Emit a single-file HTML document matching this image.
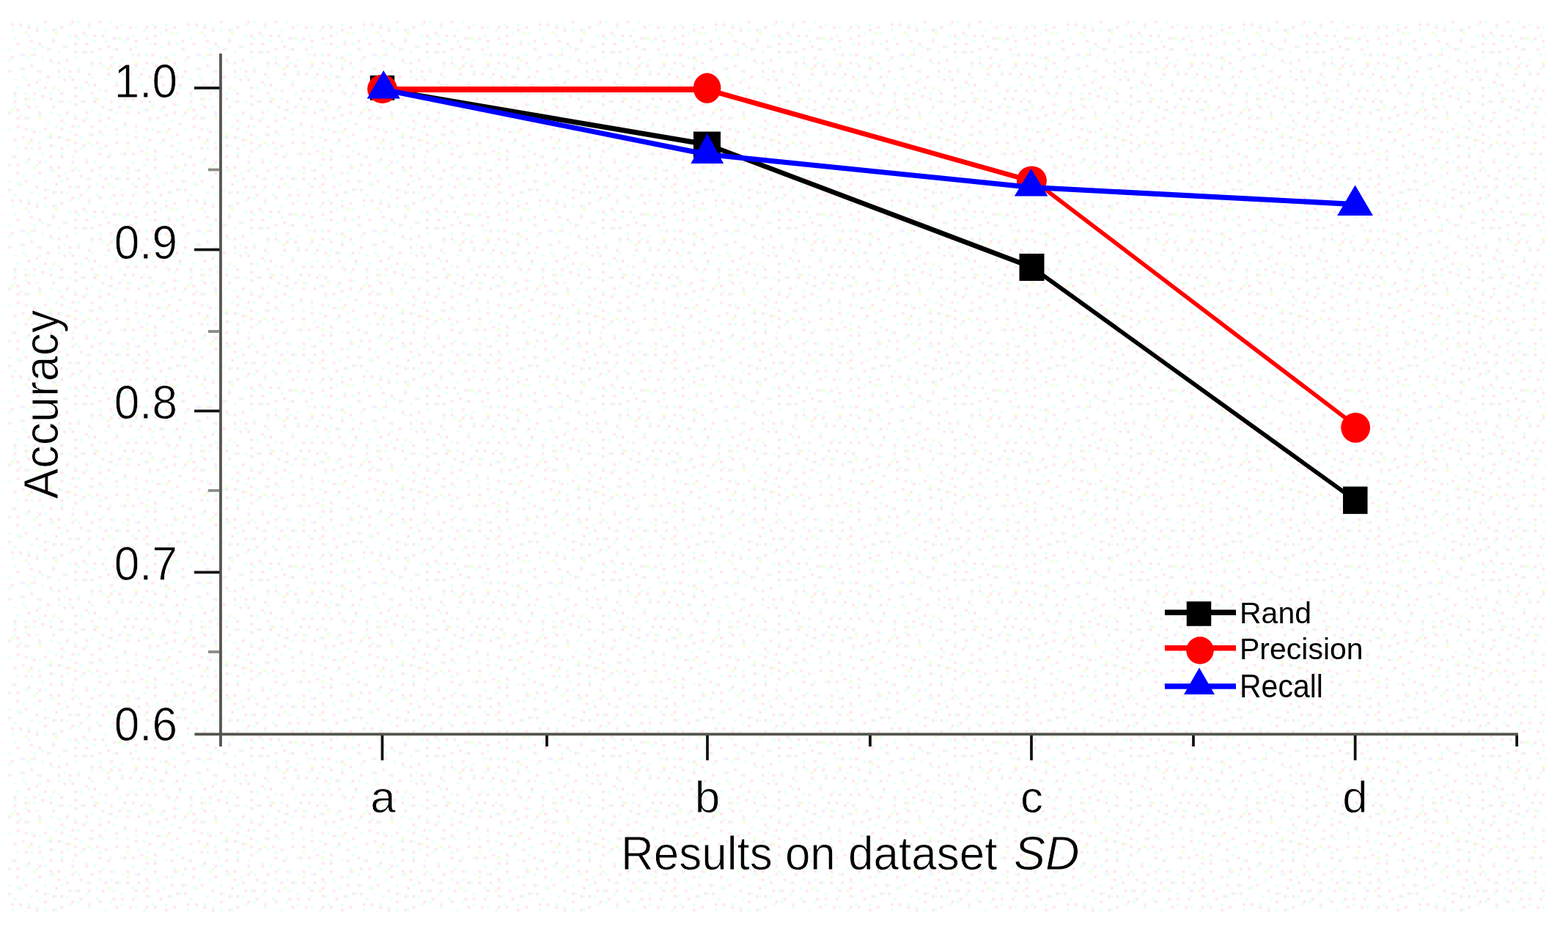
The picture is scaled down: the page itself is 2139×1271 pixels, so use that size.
<!DOCTYPE html>
<html lang="en"><head><meta charset="utf-8"><title>Results on dataset SD</title>
<style>html,body{margin:0;padding:0;background:#fff;}body{width:2139px;height:1271px;overflow:hidden;}svg{display:block;}</style></head>
<body>
<svg width="2139" height="1271" viewBox="0 0 2139 1271" role="img" aria-label="Results on dataset SD">
<defs><pattern id="dz" x="11.25" y="28.1" width="240" height="240" patternUnits="userSpaceOnUse"><path fill="#ffe6f0" d="M0 67.5h3.75v3.75h-3.75zM0 123.75h3.75v3.75h-3.75zM0 195h3.75v3.75h-3.75zM0 228.75h3.75v3.75h-3.75zM3.75 3.75h3.75v3.75h-3.75zM3.75 48.75h3.75v3.75h-3.75zM7.5 97.5h3.75v3.75h-3.75zM7.5 108.75h3.75v3.75h-3.75zM7.5 161.25h3.75v3.75h-3.75zM7.5 183.75h3.75v3.75h-3.75zM11.25 30h3.75v3.75h-3.75zM11.25 120h3.75v3.75h-3.75zM11.25 131.25h3.75v3.75h-3.75zM11.25 142.5h3.75v3.75h-3.75zM11.25 195h3.75v3.75h-3.75zM11.25 206.25h3.75v3.75h-3.75zM15 3.75h3.75v3.75h-3.75zM18.75 45h3.75v3.75h-3.75zM18.75 63.75h3.75v3.75h-3.75zM18.75 157.5h3.75v3.75h-3.75zM22.5 105h3.75v3.75h-3.75zM22.5 131.25h3.75v3.75h-3.75zM22.5 146.25h3.75v3.75h-3.75zM22.5 172.5h3.75v3.75h-3.75zM22.5 217.5h3.75v3.75h-3.75zM26.25 7.5h3.75v3.75h-3.75zM26.25 86.25h3.75v3.75h-3.75zM26.25 116.25h3.75v3.75h-3.75zM26.25 187.5h3.75v3.75h-3.75zM30 26.25h3.75v3.75h-3.75zM30 60h3.75v3.75h-3.75zM30 161.25h3.75v3.75h-3.75zM33.75 45h3.75v3.75h-3.75zM33.75 97.5h3.75v3.75h-3.75zM33.75 150h3.75v3.75h-3.75zM37.5 11.25h3.75v3.75h-3.75zM37.5 82.5h3.75v3.75h-3.75zM37.5 225h3.75v3.75h-3.75zM41.25 30h3.75v3.75h-3.75zM41.25 67.5h3.75v3.75h-3.75zM41.25 123.75h3.75v3.75h-3.75zM41.25 172.5h3.75v3.75h-3.75zM41.25 191.25h3.75v3.75h-3.75zM41.25 206.25h3.75v3.75h-3.75zM45 101.25h3.75v3.75h-3.75zM48.75 0h3.75v3.75h-3.75zM48.75 90h3.75v3.75h-3.75zM48.75 146.25h3.75v3.75h-3.75zM48.75 228.75h3.75v3.75h-3.75zM52.5 37.5h3.75v3.75h-3.75zM52.5 75h3.75v3.75h-3.75zM56.25 52.5h3.75v3.75h-3.75zM56.25 105h3.75v3.75h-3.75zM56.25 157.5h3.75v3.75h-3.75zM56.25 168.75h3.75v3.75h-3.75zM56.25 183.75h3.75v3.75h-3.75zM56.25 198.75h3.75v3.75h-3.75zM60 11.25h3.75v3.75h-3.75zM60 26.25h3.75v3.75h-3.75zM60 116.25h3.75v3.75h-3.75zM60 232.5h3.75v3.75h-3.75zM63.75 221.25h3.75v3.75h-3.75zM67.5 56.25h3.75v3.75h-3.75zM67.5 67.5h3.75v3.75h-3.75zM67.5 157.5h3.75v3.75h-3.75zM67.5 198.75h3.75v3.75h-3.75zM67.5 210h3.75v3.75h-3.75zM71.25 7.5h3.75v3.75h-3.75zM71.25 97.5h3.75v3.75h-3.75zM71.25 108.75h3.75v3.75h-3.75zM71.25 135h3.75v3.75h-3.75zM71.25 146.25h3.75v3.75h-3.75zM71.25 172.5h3.75v3.75h-3.75zM71.25 183.75h3.75v3.75h-3.75zM71.25 232.5h3.75v3.75h-3.75zM75 33.75h3.75v3.75h-3.75zM75 78.75h3.75v3.75h-3.75zM78.75 52.5h3.75v3.75h-3.75zM78.75 123.75h3.75v3.75h-3.75zM78.75 161.25h3.75v3.75h-3.75zM78.75 213.75h3.75v3.75h-3.75zM82.5 67.5h3.75v3.75h-3.75zM82.5 225h3.75v3.75h-3.75zM86.25 0h3.75v3.75h-3.75zM86.25 78.75h3.75v3.75h-3.75zM86.25 142.5h3.75v3.75h-3.75zM86.25 191.25h3.75v3.75h-3.75zM86.25 202.5h3.75v3.75h-3.75zM90 18.75h3.75v3.75h-3.75zM90 30h3.75v3.75h-3.75zM90 41.25h3.75v3.75h-3.75zM90 90h3.75v3.75h-3.75zM90 101.25h3.75v3.75h-3.75zM90 112.5h3.75v3.75h-3.75zM90 131.25h3.75v3.75h-3.75zM90 153.75h3.75v3.75h-3.75zM90 165h3.75v3.75h-3.75zM90 176.25h3.75v3.75h-3.75zM93.75 67.5h3.75v3.75h-3.75zM93.75 225h3.75v3.75h-3.75zM97.5 210h3.75v3.75h-3.75zM97.5 236.25h3.75v3.75h-3.75zM101.25 15h3.75v3.75h-3.75zM101.25 41.25h3.75v3.75h-3.75zM101.25 108.75h3.75v3.75h-3.75zM101.25 135h3.75v3.75h-3.75zM101.25 168.75h3.75v3.75h-3.75zM105 30h3.75v3.75h-3.75zM105 82.5h3.75v3.75h-3.75zM105 123.75h3.75v3.75h-3.75zM105 191.25h3.75v3.75h-3.75zM108.75 3.75h3.75v3.75h-3.75zM108.75 71.25h3.75v3.75h-3.75zM108.75 213.75h3.75v3.75h-3.75zM108.75 225h3.75v3.75h-3.75zM112.5 41.25h3.75v3.75h-3.75zM112.5 56.25h3.75v3.75h-3.75zM112.5 97.5h3.75v3.75h-3.75zM112.5 142.5h3.75v3.75h-3.75zM112.5 153.75h3.75v3.75h-3.75zM112.5 202.5h3.75v3.75h-3.75zM116.25 18.75h3.75v3.75h-3.75zM116.25 86.25h3.75v3.75h-3.75zM116.25 108.75h3.75v3.75h-3.75zM120 165h3.75v3.75h-3.75zM123.75 0h3.75v3.75h-3.75zM123.75 37.5h3.75v3.75h-3.75zM123.75 56.25h3.75v3.75h-3.75zM123.75 135h3.75v3.75h-3.75zM123.75 150h3.75v3.75h-3.75zM123.75 180h3.75v3.75h-3.75zM123.75 198.75h3.75v3.75h-3.75zM127.5 18.75h3.75v3.75h-3.75zM127.5 116.25h3.75v3.75h-3.75zM127.5 225h3.75v3.75h-3.75zM131.25 93.75h3.75v3.75h-3.75zM131.25 168.75h3.75v3.75h-3.75zM131.25 213.75h3.75v3.75h-3.75zM135 33.75h3.75v3.75h-3.75zM135 71.25h3.75v3.75h-3.75zM135 131.25h3.75v3.75h-3.75zM135 183.75h3.75v3.75h-3.75zM138.75 48.75h3.75v3.75h-3.75zM138.75 60h3.75v3.75h-3.75zM138.75 108.75h3.75v3.75h-3.75zM138.75 120h3.75v3.75h-3.75zM138.75 198.75h3.75v3.75h-3.75zM142.5 22.5h3.75v3.75h-3.75zM142.5 236.25h3.75v3.75h-3.75zM146.25 7.5h3.75v3.75h-3.75zM146.25 37.5h3.75v3.75h-3.75zM146.25 86.25h3.75v3.75h-3.75zM146.25 146.25h3.75v3.75h-3.75zM146.25 165h3.75v3.75h-3.75zM146.25 213.75h3.75v3.75h-3.75zM150 60h3.75v3.75h-3.75zM150 116.25h3.75v3.75h-3.75zM153.75 71.25h3.75v3.75h-3.75zM153.75 236.25h3.75v3.75h-3.75zM157.5 105h3.75v3.75h-3.75zM157.5 138.75h3.75v3.75h-3.75zM157.5 180h3.75v3.75h-3.75zM161.25 22.5h3.75v3.75h-3.75zM161.25 93.75h3.75v3.75h-3.75zM161.25 123.75h3.75v3.75h-3.75zM161.25 165h3.75v3.75h-3.75zM161.25 198.75h3.75v3.75h-3.75zM161.25 213.75h3.75v3.75h-3.75zM165 7.5h3.75v3.75h-3.75zM165 37.5h3.75v3.75h-3.75zM165 71.25h3.75v3.75h-3.75zM168.75 105h3.75v3.75h-3.75zM168.75 180h3.75v3.75h-3.75zM168.75 236.25h3.75v3.75h-3.75zM172.5 26.25h3.75v3.75h-3.75zM172.5 60h3.75v3.75h-3.75zM172.5 93.75h3.75v3.75h-3.75zM172.5 142.5h3.75v3.75h-3.75zM172.5 157.5h3.75v3.75h-3.75zM172.5 225h3.75v3.75h-3.75zM176.25 45h3.75v3.75h-3.75zM176.25 123.75h3.75v3.75h-3.75zM176.25 202.5h3.75v3.75h-3.75zM176.25 213.75h3.75v3.75h-3.75zM180 71.25h3.75v3.75h-3.75zM180 108.75h3.75v3.75h-3.75zM180 176.25h3.75v3.75h-3.75zM187.5 7.5h3.75v3.75h-3.75zM187.5 22.5h3.75v3.75h-3.75zM187.5 56.25h3.75v3.75h-3.75zM187.5 93.75h3.75v3.75h-3.75zM187.5 120h3.75v3.75h-3.75zM187.5 146.25h3.75v3.75h-3.75zM187.5 187.5h3.75v3.75h-3.75zM187.5 210h3.75v3.75h-3.75zM187.5 221.25h3.75v3.75h-3.75zM187.5 232.5h3.75v3.75h-3.75zM191.25 75h3.75v3.75h-3.75zM191.25 108.75h3.75v3.75h-3.75zM191.25 131.25h3.75v3.75h-3.75zM191.25 161.25h3.75v3.75h-3.75zM195 45h3.75v3.75h-3.75zM198.75 7.5h3.75v3.75h-3.75zM198.75 18.75h3.75v3.75h-3.75zM198.75 30h3.75v3.75h-3.75zM198.75 60h3.75v3.75h-3.75zM198.75 93.75h3.75v3.75h-3.75zM198.75 176.25h3.75v3.75h-3.75zM198.75 187.5h3.75v3.75h-3.75zM198.75 198.75h3.75v3.75h-3.75zM202.5 131.25h3.75v3.75h-3.75zM202.5 150h3.75v3.75h-3.75zM202.5 225h3.75v3.75h-3.75zM206.25 75h3.75v3.75h-3.75zM206.25 236.25h3.75v3.75h-3.75zM210 86.25h3.75v3.75h-3.75zM210 116.25h3.75v3.75h-3.75zM210 161.25h3.75v3.75h-3.75zM213.75 11.25h3.75v3.75h-3.75zM213.75 48.75h3.75v3.75h-3.75zM213.75 63.75h3.75v3.75h-3.75zM213.75 127.5h3.75v3.75h-3.75zM213.75 206.25h3.75v3.75h-3.75zM217.5 30h3.75v3.75h-3.75zM217.5 97.5h3.75v3.75h-3.75zM217.5 146.25h3.75v3.75h-3.75zM217.5 232.5h3.75v3.75h-3.75zM221.25 168.75h3.75v3.75h-3.75zM221.25 183.75h3.75v3.75h-3.75zM221.25 217.5h3.75v3.75h-3.75zM225 7.5h3.75v3.75h-3.75zM225 56.25h3.75v3.75h-3.75zM225 112.5h3.75v3.75h-3.75zM225 123.75h3.75v3.75h-3.75zM225 198.75h3.75v3.75h-3.75zM228.75 75h3.75v3.75h-3.75zM228.75 97.5h3.75v3.75h-3.75zM228.75 153.75h3.75v3.75h-3.75zM228.75 228.75h3.75v3.75h-3.75zM232.5 86.25h3.75v3.75h-3.75zM232.5 138.75h3.75v3.75h-3.75zM236.25 26.25h3.75v3.75h-3.75zM236.25 37.5h3.75v3.75h-3.75zM236.25 180h3.75v3.75h-3.75zM236.25 217.5h3.75v3.75h-3.75z"/><path fill="#e5ffff" d="M0 37.5h3.75v3.75h-3.75zM0 52.5h3.75v3.75h-3.75zM0 146.25h3.75v3.75h-3.75zM0 217.5h3.75v3.75h-3.75zM3.75 11.25h3.75v3.75h-3.75zM3.75 183.75h3.75v3.75h-3.75zM7.5 22.5h3.75v3.75h-3.75zM7.5 78.75h3.75v3.75h-3.75zM7.5 101.25h3.75v3.75h-3.75zM7.5 116.25h3.75v3.75h-3.75zM7.5 236.25h3.75v3.75h-3.75zM11.25 90h3.75v3.75h-3.75zM11.25 172.5h3.75v3.75h-3.75zM11.25 221.25h3.75v3.75h-3.75zM15 45h3.75v3.75h-3.75zM15 63.75h3.75v3.75h-3.75zM15 127.5h3.75v3.75h-3.75zM18.75 75h3.75v3.75h-3.75zM18.75 210h3.75v3.75h-3.75zM22.5 97.5h3.75v3.75h-3.75zM22.5 112.5h3.75v3.75h-3.75zM22.5 191.25h3.75v3.75h-3.75zM26.25 3.75h3.75v3.75h-3.75zM26.25 18.75h3.75v3.75h-3.75zM26.25 48.75h3.75v3.75h-3.75zM26.25 131.25h3.75v3.75h-3.75zM30 146.25h3.75v3.75h-3.75zM30 172.5h3.75v3.75h-3.75zM30 232.5h3.75v3.75h-3.75zM33.75 37.5h3.75v3.75h-3.75zM33.75 105h3.75v3.75h-3.75zM33.75 210h3.75v3.75h-3.75zM37.5 7.5h3.75v3.75h-3.75zM37.5 67.5h3.75v3.75h-3.75zM37.5 116.25h3.75v3.75h-3.75zM37.5 195h3.75v3.75h-3.75zM41.25 78.75h3.75v3.75h-3.75zM41.25 93.75h3.75v3.75h-3.75zM41.25 127.5h3.75v3.75h-3.75zM41.25 150h3.75v3.75h-3.75zM41.25 165h3.75v3.75h-3.75zM41.25 236.25h3.75v3.75h-3.75zM45 33.75h3.75v3.75h-3.75zM45 48.75h3.75v3.75h-3.75zM45 180h3.75v3.75h-3.75zM48.75 11.25h3.75v3.75h-3.75zM48.75 191.25h3.75v3.75h-3.75zM48.75 217.5h3.75v3.75h-3.75zM52.5 138.75h3.75v3.75h-3.75zM52.5 157.5h3.75v3.75h-3.75zM52.5 228.75h3.75v3.75h-3.75zM56.25 37.5h3.75v3.75h-3.75zM56.25 97.5h3.75v3.75h-3.75zM56.25 123.75h3.75v3.75h-3.75zM56.25 202.5h3.75v3.75h-3.75zM60 22.5h3.75v3.75h-3.75zM60 56.25h3.75v3.75h-3.75zM60 168.75h3.75v3.75h-3.75zM63.75 11.25h3.75v3.75h-3.75zM63.75 142.5h3.75v3.75h-3.75zM63.75 232.5h3.75v3.75h-3.75zM67.5 41.25h3.75v3.75h-3.75zM67.5 75h3.75v3.75h-3.75zM67.5 93.75h3.75v3.75h-3.75zM67.5 108.75h3.75v3.75h-3.75zM67.5 127.5h3.75v3.75h-3.75zM71.25 157.5h3.75v3.75h-3.75zM71.25 180h3.75v3.75h-3.75zM71.25 217.5h3.75v3.75h-3.75zM75 63.75h3.75v3.75h-3.75zM75 138.75h3.75v3.75h-3.75zM75 206.25h3.75v3.75h-3.75zM78.75 33.75h3.75v3.75h-3.75zM78.75 168.75h3.75v3.75h-3.75zM78.75 232.5h3.75v3.75h-3.75zM82.5 3.75h3.75v3.75h-3.75zM82.5 18.75h3.75v3.75h-3.75zM82.5 75h3.75v3.75h-3.75zM82.5 108.75h3.75v3.75h-3.75zM82.5 150h3.75v3.75h-3.75zM86.25 183.75h3.75v3.75h-3.75zM90 48.75h3.75v3.75h-3.75zM90 127.5h3.75v3.75h-3.75zM90 225h3.75v3.75h-3.75zM93.75 0h3.75v3.75h-3.75zM93.75 22.5h3.75v3.75h-3.75zM93.75 63.75h3.75v3.75h-3.75zM93.75 142.5h3.75v3.75h-3.75zM93.75 202.5h3.75v3.75h-3.75zM97.5 90h3.75v3.75h-3.75zM97.5 108.75h3.75v3.75h-3.75zM97.5 157.5h3.75v3.75h-3.75zM97.5 172.5h3.75v3.75h-3.75zM105 18.75h3.75v3.75h-3.75zM105 41.25h3.75v3.75h-3.75zM105 131.25h3.75v3.75h-3.75zM105 187.5h3.75v3.75h-3.75zM105 213.75h3.75v3.75h-3.75zM105 228.75h3.75v3.75h-3.75zM108.75 7.5h3.75v3.75h-3.75zM108.75 86.25h3.75v3.75h-3.75zM108.75 153.75h3.75v3.75h-3.75zM112.5 60h3.75v3.75h-3.75zM112.5 75h3.75v3.75h-3.75zM112.5 120h3.75v3.75h-3.75zM112.5 168.75h3.75v3.75h-3.75zM116.25 26.25h3.75v3.75h-3.75zM116.25 105h3.75v3.75h-3.75zM116.25 191.25h3.75v3.75h-3.75zM120 221.25h3.75v3.75h-3.75zM120 236.25h3.75v3.75h-3.75zM123.75 48.75h3.75v3.75h-3.75zM123.75 93.75h3.75v3.75h-3.75zM123.75 127.5h3.75v3.75h-3.75zM123.75 172.5h3.75v3.75h-3.75zM123.75 210h3.75v3.75h-3.75zM127.5 60h3.75v3.75h-3.75zM127.5 153.75h3.75v3.75h-3.75zM127.5 195h3.75v3.75h-3.75zM131.25 11.25h3.75v3.75h-3.75zM131.25 26.25h3.75v3.75h-3.75zM131.25 78.75h3.75v3.75h-3.75zM131.25 105h3.75v3.75h-3.75zM131.25 142.5h3.75v3.75h-3.75zM135 120h3.75v3.75h-3.75zM138.75 0h3.75v3.75h-3.75zM138.75 180h3.75v3.75h-3.75zM138.75 210h3.75v3.75h-3.75zM142.5 37.5h3.75v3.75h-3.75zM142.5 56.25h3.75v3.75h-3.75zM142.5 135h3.75v3.75h-3.75zM142.5 198.75h3.75v3.75h-3.75zM142.5 225h3.75v3.75h-3.75zM146.25 22.5h3.75v3.75h-3.75zM146.25 82.5h3.75v3.75h-3.75zM146.25 123.75h3.75v3.75h-3.75zM146.25 153.75h3.75v3.75h-3.75zM150 97.5h3.75v3.75h-3.75zM150 213.75h3.75v3.75h-3.75zM153.75 3.75h3.75v3.75h-3.75zM153.75 52.5h3.75v3.75h-3.75zM153.75 67.5h3.75v3.75h-3.75zM153.75 112.5h3.75v3.75h-3.75zM153.75 180h3.75v3.75h-3.75zM153.75 202.5h3.75v3.75h-3.75zM153.75 228.75h3.75v3.75h-3.75zM157.5 26.25h3.75v3.75h-3.75zM157.5 142.5h3.75v3.75h-3.75zM161.25 153.75h3.75v3.75h-3.75zM165 90h3.75v3.75h-3.75zM165 116.25h3.75v3.75h-3.75zM168.75 18.75h3.75v3.75h-3.75zM168.75 45h3.75v3.75h-3.75zM168.75 63.75h3.75v3.75h-3.75zM168.75 191.25h3.75v3.75h-3.75zM168.75 221.25h3.75v3.75h-3.75zM172.5 7.5h3.75v3.75h-3.75zM172.5 33.75h3.75v3.75h-3.75zM172.5 150h3.75v3.75h-3.75zM172.5 202.5h3.75v3.75h-3.75zM172.5 232.5h3.75v3.75h-3.75zM176.25 75h3.75v3.75h-3.75zM176.25 168.75h3.75v3.75h-3.75zM180 86.25h3.75v3.75h-3.75zM183.75 11.25h3.75v3.75h-3.75zM183.75 63.75h3.75v3.75h-3.75zM183.75 105h3.75v3.75h-3.75zM183.75 120h3.75v3.75h-3.75zM183.75 157.5h3.75v3.75h-3.75zM183.75 195h3.75v3.75h-3.75zM187.5 45h3.75v3.75h-3.75zM187.5 172.5h3.75v3.75h-3.75zM191.25 30h3.75v3.75h-3.75zM191.25 135h3.75v3.75h-3.75zM191.25 213.75h3.75v3.75h-3.75zM191.25 232.5h3.75v3.75h-3.75zM195 3.75h3.75v3.75h-3.75zM195 56.25h3.75v3.75h-3.75zM195 86.25h3.75v3.75h-3.75zM195 112.5h3.75v3.75h-3.75zM195 146.25h3.75v3.75h-3.75zM198.75 71.25h3.75v3.75h-3.75zM198.75 183.75h3.75v3.75h-3.75zM202.5 210h3.75v3.75h-3.75zM206.25 15h3.75v3.75h-3.75zM206.25 33.75h3.75v3.75h-3.75zM206.25 48.75h3.75v3.75h-3.75zM206.25 120h3.75v3.75h-3.75zM206.25 150h3.75v3.75h-3.75zM206.25 165h3.75v3.75h-3.75zM210 75h3.75v3.75h-3.75zM210 138.75h3.75v3.75h-3.75zM210 221.25h3.75v3.75h-3.75zM213.75 3.75h3.75v3.75h-3.75zM213.75 60h3.75v3.75h-3.75zM213.75 93.75h3.75v3.75h-3.75zM213.75 183.75h3.75v3.75h-3.75zM217.5 26.25h3.75v3.75h-3.75zM221.25 135h3.75v3.75h-3.75zM221.25 157.5h3.75v3.75h-3.75zM221.25 206.25h3.75v3.75h-3.75zM221.25 232.5h3.75v3.75h-3.75zM225 45h3.75v3.75h-3.75zM225 78.75h3.75v3.75h-3.75zM225 101.25h3.75v3.75h-3.75zM225 195h3.75v3.75h-3.75zM228.75 15h3.75v3.75h-3.75zM228.75 30h3.75v3.75h-3.75zM228.75 63.75h3.75v3.75h-3.75zM228.75 112.5h3.75v3.75h-3.75zM228.75 176.25h3.75v3.75h-3.75zM232.5 90h3.75v3.75h-3.75zM232.5 165h3.75v3.75h-3.75zM232.5 228.75h3.75v3.75h-3.75zM236.25 75h3.75v3.75h-3.75zM236.25 127.5h3.75v3.75h-3.75zM236.25 202.5h3.75v3.75h-3.75z"/><path fill="#f2ffd6" d="M3.75 120h3.75v3.75h-3.75zM15 221.25h3.75v3.75h-3.75zM22.5 15h3.75v3.75h-3.75zM22.5 78.75h3.75v3.75h-3.75zM26.25 105h3.75v3.75h-3.75zM26.25 165h3.75v3.75h-3.75zM30 45h3.75v3.75h-3.75zM33.75 198.75h3.75v3.75h-3.75zM41.25 131.25h3.75v3.75h-3.75zM56.25 153.75h3.75v3.75h-3.75zM60 90h3.75v3.75h-3.75zM60 202.5h3.75v3.75h-3.75zM63.75 15h3.75v3.75h-3.75zM82.5 161.25h3.75v3.75h-3.75zM90 198.75h3.75v3.75h-3.75zM108.75 165h3.75v3.75h-3.75zM120 105h3.75v3.75h-3.75zM135 63.75h3.75v3.75h-3.75zM135 221.25h3.75v3.75h-3.75zM150 22.5h3.75v3.75h-3.75zM161.25 116.25h3.75v3.75h-3.75zM161.25 172.5h3.75v3.75h-3.75zM161.25 206.25h3.75v3.75h-3.75zM172.5 56.25h3.75v3.75h-3.75zM183.75 225h3.75v3.75h-3.75zM187.5 180h3.75v3.75h-3.75zM195 78.75h3.75v3.75h-3.75zM195 116.25h3.75v3.75h-3.75zM213.75 150h3.75v3.75h-3.75zM217.5 52.5h3.75v3.75h-3.75zM221.25 15h3.75v3.75h-3.75zM228.75 198.75h3.75v3.75h-3.75z"/></pattern></defs>
<rect x="0" y="0" width="2139" height="1271" fill="#fff"/>
<rect x="11.25" y="28.1" width="2097" height="1215" fill="url(#dz)"/>
<g fill="#54544c">
<rect x="299.1" y="73" width="3.75" height="945"/>
<rect x="265.4" y="999.4" width="1805.6" height="3.75"/>
</g>
<g fill="#111">
<rect x="265" y="118.1" width="34.5" height="3.75"/>
<rect x="265" y="338.6" width="34.5" height="3.75"/>
<rect x="265" y="558.6" width="34.5" height="3.75"/>
<rect x="265" y="778.6" width="34.5" height="3.75"/>
<rect x="519.6" y="1003" width="3.75" height="33.8"/>
<rect x="963.1" y="1003" width="3.75" height="33.8"/>
<rect x="1405.1" y="1003" width="3.75" height="33.8"/>
<rect x="1846.8" y="1003" width="3.75" height="33.8"/>
<rect x="744.1" y="1003" width="3.75" height="15"/>
<rect x="1185.1" y="1003" width="3.75" height="15"/>
<rect x="1626.1" y="1003" width="3.75" height="15"/>
<rect x="2067.3" y="1003" width="3.75" height="15"/>
</g>
<g fill="#8a8a86">
<rect x="284" y="229.6" width="15.2" height="3.75"/>
<rect x="284" y="450.1" width="15.2" height="3.75"/>
<rect x="284" y="667.1" width="15.2" height="3.75"/>
<rect x="284" y="887.1" width="15.2" height="3.75"/>
</g>
<line x1="522" y1="122" x2="964.5" y2="197" stroke="#000" stroke-width="7.00" stroke-linecap="round"/><line x1="964.5" y1="197" x2="1407.5" y2="364.3" stroke="#000" stroke-width="6.64" stroke-linecap="round"/><line x1="1407.5" y1="364.3" x2="1848.8" y2="682.2" stroke="#000" stroke-width="5.76" stroke-linecap="round"/>
<rect x="504.8" y="102.9" width="33.4" height="33.8" fill="#000"/>
<rect x="946" y="179.5" width="37" height="35.6" fill="#000"/>
<rect x="1390.5" y="345.95" width="34" height="37.1" fill="#000"/>
<rect x="1832.05" y="663.55" width="33.5" height="37.3" fill="#000"/>
<line x1="522" y1="122" x2="964.5" y2="122.1" stroke="#f00" stroke-width="8.00" stroke-linecap="round"/><line x1="964.5" y1="122.1" x2="1407.5" y2="247" stroke="#f00" stroke-width="6.83" stroke-linecap="round"/><line x1="1407.5" y1="244.3" x2="1849.2" y2="580.5" stroke="#f00" stroke-width="5.65" stroke-linecap="round"/>
<ellipse cx="521.5" cy="121.3" rx="20.4" ry="19.6" fill="#f00"/>
<ellipse cx="964.6" cy="120.2" rx="18.8" ry="20.6" fill="#f00"/>
<ellipse cx="1407.4" cy="246.6" rx="20.5" ry="20.2" fill="#f00"/>
<ellipse cx="1849.2" cy="583.2" rx="19.9" ry="20.5" fill="#f00"/>
<line x1="522.5" y1="122" x2="964.5" y2="210.5" stroke="#00f" stroke-width="6.96" stroke-linecap="round"/><line x1="964.5" y1="210.5" x2="1407.5" y2="255.5" stroke="#00f" stroke-width="7.06" stroke-linecap="round"/><line x1="1407.5" y1="255.5" x2="1848.6" y2="278.6" stroke="#00f" stroke-width="7.09" stroke-linecap="round"/>
<polygon points="523.2,96 545.8,134.6 500.6,134.6" fill="#00f"/>
<polygon points="964.8,182 987.2,223 942.4,223" fill="#00f"/>
<polygon points="1406.6,230 1429.4,267.5 1383.8,267.5" fill="#00f"/>
<polygon points="1848.6,252.4 1873,294 1824.2,294" fill="#00f"/>
<rect x="1589" y="831.5" width="97" height="7.5" fill="#000"/>
<rect x="1618.75" y="820.25" width="33.5" height="33.5" fill="#000"/>
<rect x="1589" y="880" width="97" height="7.5" fill="#f00"/>
<ellipse cx="1637" cy="887" rx="18.7" ry="18.7" fill="#f00"/>
<rect x="1589" y="932.2" width="97" height="7.5" fill="#00f"/>
<polygon points="1636,910.4 1657,947 1615,947" fill="#00f"/>
<g font-family="'Liberation Sans', sans-serif" fill="#000">
<text transform="translate(1691,850) scale(1,1)" font-size="41">Rand</text>
<text transform="translate(1691,898.5) scale(1,1)" font-size="41">Precision</text>
<text transform="translate(1691,951) scale(1,1.1)" font-size="41">Recall</text>
<text transform="translate(242,132.5) scale(1,1.05)" font-size="62" text-anchor="end" stroke="#fff" stroke-width="0.8">1.0</text>
<text transform="translate(242,353) scale(1,1.05)" font-size="62" text-anchor="end" stroke="#fff" stroke-width="0.8">0.9</text>
<text transform="translate(242,570.5) scale(1,1.05)" font-size="62" text-anchor="end" stroke="#fff" stroke-width="0.8">0.8</text>
<text transform="translate(242,790.5) scale(1,1.05)" font-size="62" text-anchor="end" stroke="#fff" stroke-width="0.8">0.7</text>
<text transform="translate(242,1010) scale(1,1.05)" font-size="62" text-anchor="end" stroke="#fff" stroke-width="0.8">0.6</text>
<text transform="translate(522.5,1107.5) scale(1,1)" font-size="62" text-anchor="middle" stroke="#fff" stroke-width="0.8">a</text>
<text transform="translate(965,1107.5) scale(1,1)" font-size="62" text-anchor="middle" stroke="#fff" stroke-width="0.8">b</text>
<text transform="translate(1407.5,1107.5) scale(1,1)" font-size="62" text-anchor="middle" stroke="#fff" stroke-width="0.8">c</text>
<text transform="translate(1848.5,1107.5) scale(1,1)" font-size="62" text-anchor="middle" stroke="#fff" stroke-width="0.8">d</text>
<text transform="translate(847,1185.5) scale(1,1.05)" font-size="62" stroke="#fff" stroke-width="0.8">Results on dataset</text>
<text transform="translate(1383,1185.5) scale(1.04,1.05)" font-size="62" stroke="#fff" stroke-width="0.8"><tspan font-style="italic">SD</tspan></text>
<text transform="translate(78.5,680.5) rotate(-90) scale(1.012,1.08)" font-size="62" stroke="#fff" stroke-width="0.8">Accuracy</text>
</g>
</svg>
</body></html>
